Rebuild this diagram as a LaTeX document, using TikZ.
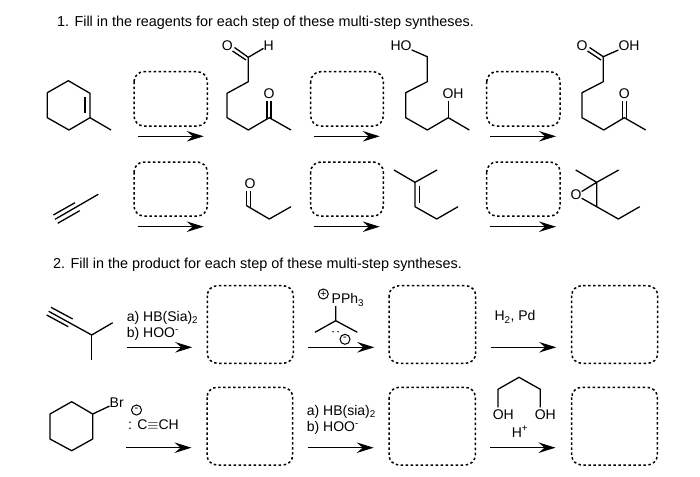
\documentclass[tikz,border=0pt]{standalone}
\usepackage{fontspec}
\setmainfont{Liberation Sans}
\usetikzlibrary{arrows.meta, positioning}
\tikzset{
    bond/.style={line width=1.3pt, line join=round},
    answerbox/.style={draw, line width=1.5pt, dash pattern=on 2.5pt off 2.5pt, rounded corners=10pt},
    rxn/.style={line width=1.4pt, -{Stealth[length=17pt, width=10.5pt, inset=6pt]}},
    atom/.style={font=\fontsize{14}{14}\selectfont, inner sep=0pt},
    reagent/.style={font=\fontsize{14}{16}\selectfont, inner sep=0pt, anchor=west, align=left},
    heading/.style={font=\fontsize{14.4}{16}\selectfont, inner sep=0pt, anchor=west},
    charge/.style={circle, draw, line width=1pt, inner sep=0pt, minimum size=10pt, font=\fontsize{11}{11}\selectfont}
}
\begin{document}
\begin{tikzpicture}[x=1pt, y=-1pt]
\useasboundingbox (0,0) rectangle (700,476);

\node[heading] (titleA) at (57,23) {1. Fill in the reagents for each step of these multi-step syntheses.};
\node[heading] (titleB) at (53,265) {2. Fill in the product for each step of these multi-step syntheses.};

% answer boxes
\draw[answerbox] (134,71.7) rectangle (207.3,126);
\draw[answerbox] (310.7,71.7) rectangle (383.3,126);
\draw[answerbox] (486.7,71.7) rectangle (560,126);
\draw[answerbox] (134,162) rectangle (207.3,216);
\draw[answerbox] (310.7,162) rectangle (383.3,216);
\draw[answerbox] (486.7,162) rectangle (560,216);
\draw[answerbox] (207.3,285.7) rectangle (293.3,363.3);
\draw[answerbox] (389,285.7) rectangle (475.7,363.3);
\draw[answerbox] (571.7,285.7) rectangle (657.7,363.3);
\draw[answerbox] (207,387.3) rectangle (292.7,465);
\draw[answerbox] (389,387.3) rectangle (475.3,465);
\draw[answerbox] (571.7,387.3) rectangle (657.3,465);

% arrows
\coordinate (arrowA) at (137.7,136.3);
\coordinate (arrowB) at (313.7,136.3);
\coordinate (arrowC) at (490,136.3);
\coordinate (arrowD) at (137.7,226.7);
\coordinate (arrowE) at (313.7,226.7);
\coordinate (arrowF) at (490,226.7);
\draw[rxn] (arrowA) -- +(66,0);
\draw[rxn] (arrowB) -- +(66,0);
\draw[rxn] (arrowC) -- +(66,0);
\draw[rxn] (arrowD) -- +(66,0);
\draw[rxn] (arrowE) -- +(66,0);
\draw[rxn] (arrowF) -- +(66,0);
\coordinate (arrowG) at (126.7,347.3);
\coordinate (arrowH) at (308.3,347.3);
\coordinate (arrowI) at (490.7,347.3);
\coordinate (arrowJ) at (126,447.7);
\coordinate (arrowK) at (307.7,447.7);
\coordinate (arrowL) at (490,447.7);
\draw[rxn] (arrowG) -- +(65.5,0);
\draw[rxn] (arrowH) -- +(66,0);
\draw[rxn] (arrowI) -- +(65.5,0);
\draw[rxn] (arrowJ) -- +(65.5,0);
\draw[rxn] (arrowK) -- +(66,0);
\draw[rxn] (arrowL) -- +(65.5,0);

% methylcyclohexene
\draw[bond] (90,93.3) -- (68.3,80.7) -- (47.3,92.7) -- (47.3,117.7) -- (69,130) -- (90,117.7) -- cycle;
\draw[bond] (85,96.7) -- (85,113);
\draw[bond] (90,117.7) -- (111,130);

% keto aldehyde
\node[atom] (aldO) at (227.3,45.3) {O};
\node[atom] (aldH) at (268.7,45.3) {H};
\node[atom] (ketO) at (269,94) {O};
\draw[bond] (aldH) -- (248.3,57.3) -- (248.3,81.7) -- (227,93.3) -- (227,117.7) -- (248.3,130) -- (269.3,117.7) -- (291,130);
\draw[bond] (234.5,47.5) -- (248.3,57.3);
\draw[bond] (232.5,51) -- (246,60);
\draw[bond] (266.9,101.5) -- (266.9,118.5);
\draw[bond] (270.9,101.5) -- (270.9,118.5);

% diol
\node[atom] (diolHO) at (401,45.3) {HO};
\node[atom] (diolOH) at (453,94) {OH};
\draw[bond] (diolHO) -- (427.3,56.7) -- (427.3,81.7) -- (405.7,92.7) -- (405.7,117.7) -- (427.3,130) -- (448.3,117.7) -- (469.3,130);
\draw[bond] (448.3,117.7) -- (448.3,101);

% keto acid
\node[atom] (acidO) at (582,45.3) {O};
\node[atom] (acidOH) at (629,45.3) {OH};
\node[atom] (acidK) at (624.3,94) {O};
\draw[bond] (acidOH) -- (603.3,56.7) -- (603.3,81.7) -- (582,92.7) -- (582,117.7) -- (603.7,130) -- (624.3,117.7) -- (645.7,130);
\draw[bond] (589.5,47.5) -- (603.3,56.7);
\draw[bond] (587.5,51) -- (601,60);
\draw[bond] (622.3,101.5) -- (622.3,118.5);
\draw[bond] (626.3,101.5) -- (626.3,118.5);

% propyne
\draw[bond] (55,219.3) -- (98.3,194.3);
\draw[bond] (53.3,215) -- (75,202.7);
\draw[bond] (57.7,223.3) -- (79.7,210.7);

% propanal
\node[atom] (propO) at (250,183.3) {O};
\draw[bond] (246.6,205.7) -- (269.3,219) -- (291,206.7);
\draw[bond] (246.6,190.5) -- (246.6,205.7);
\draw[bond] (250.4,190.5) -- (250.4,207.2);

% alkene
\draw[bond] (394,170) -- (415,182.3) -- (437,170);
\draw[bond] (415,182.3) -- (415,206.7) -- (436.7,219) -- (458,206.7);
\draw[bond] (419.3,186) -- (419.3,203);

% epoxide
\node[atom] (epoxO) at (576,195) {O};
\draw[bond] (575.7,170) -- (596.7,182.3) -- (618.7,170);
\draw[bond] (596.7,182.3) -- (596.7,206.7) -- (618.3,219) -- (639.7,206.7);
\draw[bond] (epoxO) -- (596.7,182.3);
\draw[bond] (epoxO) -- (596.7,206.7);

% methylbutyne
\draw[bond] (48.7,311.3) -- (91.7,335) -- (112.7,322.7);
\draw[bond] (91.7,335) -- (91.7,360);
\draw[bond] (51,307.3) -- (72.7,319);
\draw[bond] (46.7,315) -- (68.3,326.7);

\node[reagent] (sia) at (126.7,326) {a) HB(Sia)\textsubscript{2}\\b) HOO\textsuperscript{-}};

% ylide
\node[charge] (plus) at (323.3,294) {+};
\node[reagent] (ylideP) at (331.5,300) {PPh\textsubscript{3}};
\draw[bond] (335.7,306) -- (335.7,320.7) -- (315,332.3);
\draw[bond] (335.7,320.7) -- (357.3,332.3);
\fill (333,331.7) circle (0.8pt) (338,331.7) circle (0.8pt);
\node[charge, fill=white] (ylideminus) at (345,339.3) {-};

% cyclohexyl bromide
\node[atom] (brom) at (116.7,402.7) {Br};
\draw[bond] (92.7,414) -- (71.7,401.7) -- (50,414) -- (50,439) -- (71.7,450.7) -- (92.7,439) -- cycle;
\draw[bond] (92.7,414) -- (brom);
\node[charge] (acetminus) at (136.5,410) {-};
\node[reagent] (acetyl) at (128,425) {: C$\equiv$CH};

\node[reagent] (siaB) at (306.7,420) {a) HB(sia)\textsubscript{2}\\b) HOO\textsuperscript{-}};
\node[reagent, anchor=center] (hydro) at (515,317) {H\textsubscript{2}, Pd};

% diol reagent
\node[atom] (glyA) at (503.3,415) {OH};
\node[atom] (glyB) at (545.3,415) {OH};
\draw[bond] (498,407.3) -- (498,389.3) -- (519,377.3) -- (540.3,389.3) -- (540.3,407.3);
\node[atom] (acid) at (520,431.7) {H\textsuperscript{+}};
\end{tikzpicture}
\end{document}
